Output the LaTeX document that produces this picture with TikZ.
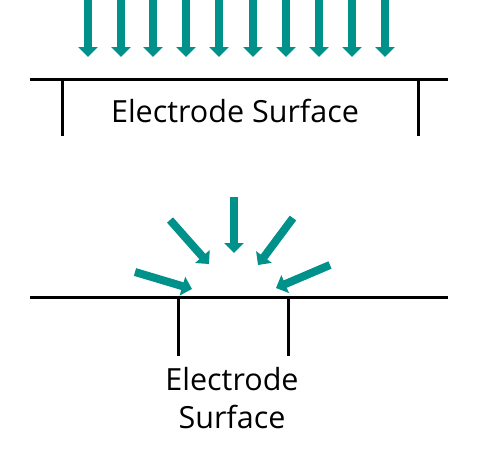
\documentclass[tikz,border=0pt]{standalone}
\usepackage{fontspec}
\setmainfont{Open Sans}
\usetikzlibrary{arrows.meta}
\definecolor{teal1}{RGB}{0,146,138}
\tikzset{
  flux/.style={draw=teal1, line width=8pt, -{Triangle[width=19pt,length=10pt]}},
  surf/.style={draw=black, line width=3pt},
  lbl/.style={font=\fontsize{30.5}{38}\selectfont, inner sep=0pt}
}
\begin{document}
\begin{tikzpicture}[x=1pt,y=-1pt]
\useasboundingbox (0,0) rectangle (480,459);
% top panel
\foreach \i/\x in {1/88,2/121,3/153,4/186,5/219,6/253,7/286,8/319,9/352,10/385}{
  \coordinate (t\i) at (\x,0);
  \coordinate (h\i) at (\x,57);
  \draw[flux] (t\i) -- (h\i);
}
\coordinate (L1a) at (30,79);
\coordinate (L1b) at (448,79);
\coordinate (k1a) at (62,79);
\coordinate (k1b) at (62,136);
\coordinate (k2a) at (418,79);
\coordinate (k2b) at (418,136);
\draw[surf] (L1a) -- (L1b);
\draw[surf] (k1a) -- (k1b);
\draw[surf] (k2a) -- (k2b);
\node[lbl, anchor=base] (top) at (235,122) {Electrode Surface};
% bottom panel
\coordinate (a1) at (135,272); \coordinate (b1) at (192,289);
\coordinate (a2) at (170,220); \coordinate (b2) at (209,264);
\coordinate (a3) at (234,197); \coordinate (b3) at (234,253);
\coordinate (a4) at (293,218); \coordinate (b4) at (258,265);
\coordinate (a5) at (330,265); \coordinate (b5) at (276,288);
\foreach \i in {1,...,5}{ \draw[flux] (a\i) -- (b\i); }
\coordinate (L2a) at (30,297);
\coordinate (L2b) at (448,297);
\coordinate (m1a) at (178,297);
\coordinate (m1b) at (178,356);
\coordinate (m2a) at (288,297);
\coordinate (m2b) at (288,356);
\draw[surf] (L2a) -- (L2b);
\draw[surf] (m1a) -- (m1b);
\draw[surf] (m2a) -- (m2b);
\node[lbl, align=center, anchor=base] (bot) at (232,428) {Electrode\\Surface};
\end{tikzpicture}
\end{document}
